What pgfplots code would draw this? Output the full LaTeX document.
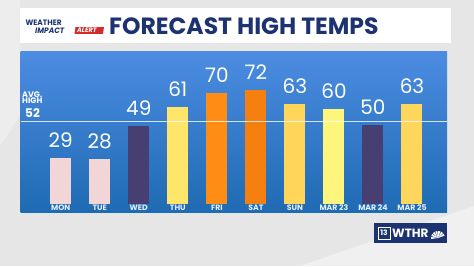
\documentclass[border=0pt]{standalone}
\usepackage{pgfplots}
\pgfplotsset{compat=1.18}
\usepackage{fontspec}
\setmainfont{Poppins}
\definecolor{bggray}{HTML}{E6E6E6}
\definecolor{navy}{HTML}{1D3371}
\definecolor{paneltop}{HTML}{4C8CE2}
\definecolor{panelbot}{HTML}{1F6BB3}
\definecolor{cpink}{HTML}{F2D5D7}
\definecolor{cpurple}{HTML}{473F72}
\definecolor{cthu}{HTML}{FFE66B}
\definecolor{cfri}{HTML}{FF8C14}
\definecolor{csat}{HTML}{F57F0F}
\definecolor{csun}{HTML}{FFD65A}
\definecolor{cm23}{HTML}{FEF67C}
\definecolor{cm25}{HTML}{FFD65C}
\definecolor{alertred}{HTML}{D62B2B}
\definecolor{ticklab}{HTML}{E4EEF9}
\pgfplotsset{mybar/.style={fill=#1, draw=none, bar shift=0pt}}
\begin{document}
\begin{tikzpicture}[x=1pt,y=1pt]
% background
\fill[bggray] (0,0) rectangle (474,266);
\fill[white!40!bggray] (300,0) -- (474,0) -- (474,60) -- cycle;
\fill[white!30!bggray] (0,266) -- (0,120) -- (20,150) -- (20,266) -- cycle;
% title box
\fill[white] (20,223.3) rectangle (450.7,258);
\node[anchor=base west, inner sep=0pt, text=navy, font=\bfseries\fontsize{23.5}{23.5}\selectfont] at (109,232) {FORECAST HIGH TEMPS};
% logo
\node[anchor=base west, inner sep=0pt, text=navy, font=\bfseries\fontsize{7.8}{7.8}\selectfont, xscale=0.95] at (25.5,240.3) {WEATHER};
\node[anchor=base west, inner sep=0pt, text=navy, font=\bfseries\itshape\fontsize{7.8}{7.8}\selectfont, xscale=0.95] at (35,233) {IMPACT};
\fill[alertred] (74.5,232.2) -- (103,232.2) -- (104,239) -- (75.5,239) -- cycle;
\node[anchor=base west, inner sep=0pt, text=white, font=\bfseries\itshape\fontsize{6.5}{6.5}\selectfont] at (77,233.4) {ALERT};
% panel
\shade[top color=paneltop, bottom color=panelbot] (20.7,54) rectangle (447,214.3);
\begin{axis}[
  at={(20.7pt,54pt)}, anchor=south west,
  scale only axis, width=426.3pt, height=160.3pt,
  xmin=-1.026, xmax=9.897, ymin=-5.03, ymax=95.8,
  axis line style={draw=none}, major tick length=0pt,
  ytick=\empty,
  xtick={0,...,9},
  xticklabels={MON,TUE,WED,THU,FRI,SAT,SUN,MAR 23,MAR 24,MAR 25},
  xticklabel style={anchor=center, yshift=4pt, text=ticklab, font=\bfseries\fontsize{7.8}{7.8}\selectfont, inner sep=0pt},
  ybar, bar width=21pt,
  /pgf/number format/assume math mode=true,
  nodes near coords,
  every node near coord/.append style={anchor=south, inner sep=0pt, yshift=10pt, text=white, font=\fontsize{20}{20}\selectfont},
  clip=false,
]
\addplot[mybar=cpink] coordinates {(0,29)};
\addplot[mybar=cpink] coordinates {(1,28)};
\addplot[mybar=cpurple] coordinates {(2,49)};
\addplot[mybar=cthu] coordinates {(3,61)};
\addplot[mybar=cfri] coordinates {(4,70)};
\addplot[mybar=csat] coordinates {(5,72)};
\addplot[mybar=csun] coordinates {(6,63)};
\addplot[mybar=cm23] coordinates {(7,60)};
\addplot[mybar=cpurple] coordinates {(8,50)};
\addplot[mybar=cm25] coordinates {(9,63)};
\addplot[sharp plot, white, opacity=0.8, line width=0.8pt, nodes near coords={}, forget plot] coordinates {(-1.026,52) (9.897,52)};
\end{axis}
% avg label
\node[anchor=base west, inner sep=0pt, text=white, font=\bfseries\fontsize{8}{8}\selectfont] at (22,169) {AVG.};
\node[anchor=base west, inner sep=0pt, text=white, font=\bfseries\fontsize{8}{8}\selectfont] at (22,162.3) {HIGH};
\node[anchor=base west, inner sep=0pt, text=white, font=\bfseries\fontsize{12}{12}\selectfont] at (25,149) {52};
% station logo
\fill[navy] (374,23) rectangle (447,43);
\draw[white, line width=0.8pt] (378,27) rectangle (390,39);
\node[anchor=center, inner sep=0pt, text=white, font=\bfseries\fontsize{7.5}{7.5}\selectfont] at (384,33) {13};
\node[anchor=base west, inner sep=0pt, text=white, font=\bfseries\fontsize{12}{12}\selectfont] at (392,28.5) {WTHR};
\foreach \a in {20,45,70,95,120,145,170}{
  \fill[white] (438,28) -- ++(\a:7pt) arc[start angle=\a, end angle=\a+18, radius=7pt] -- cycle;
}
\end{tikzpicture}
\end{document}
